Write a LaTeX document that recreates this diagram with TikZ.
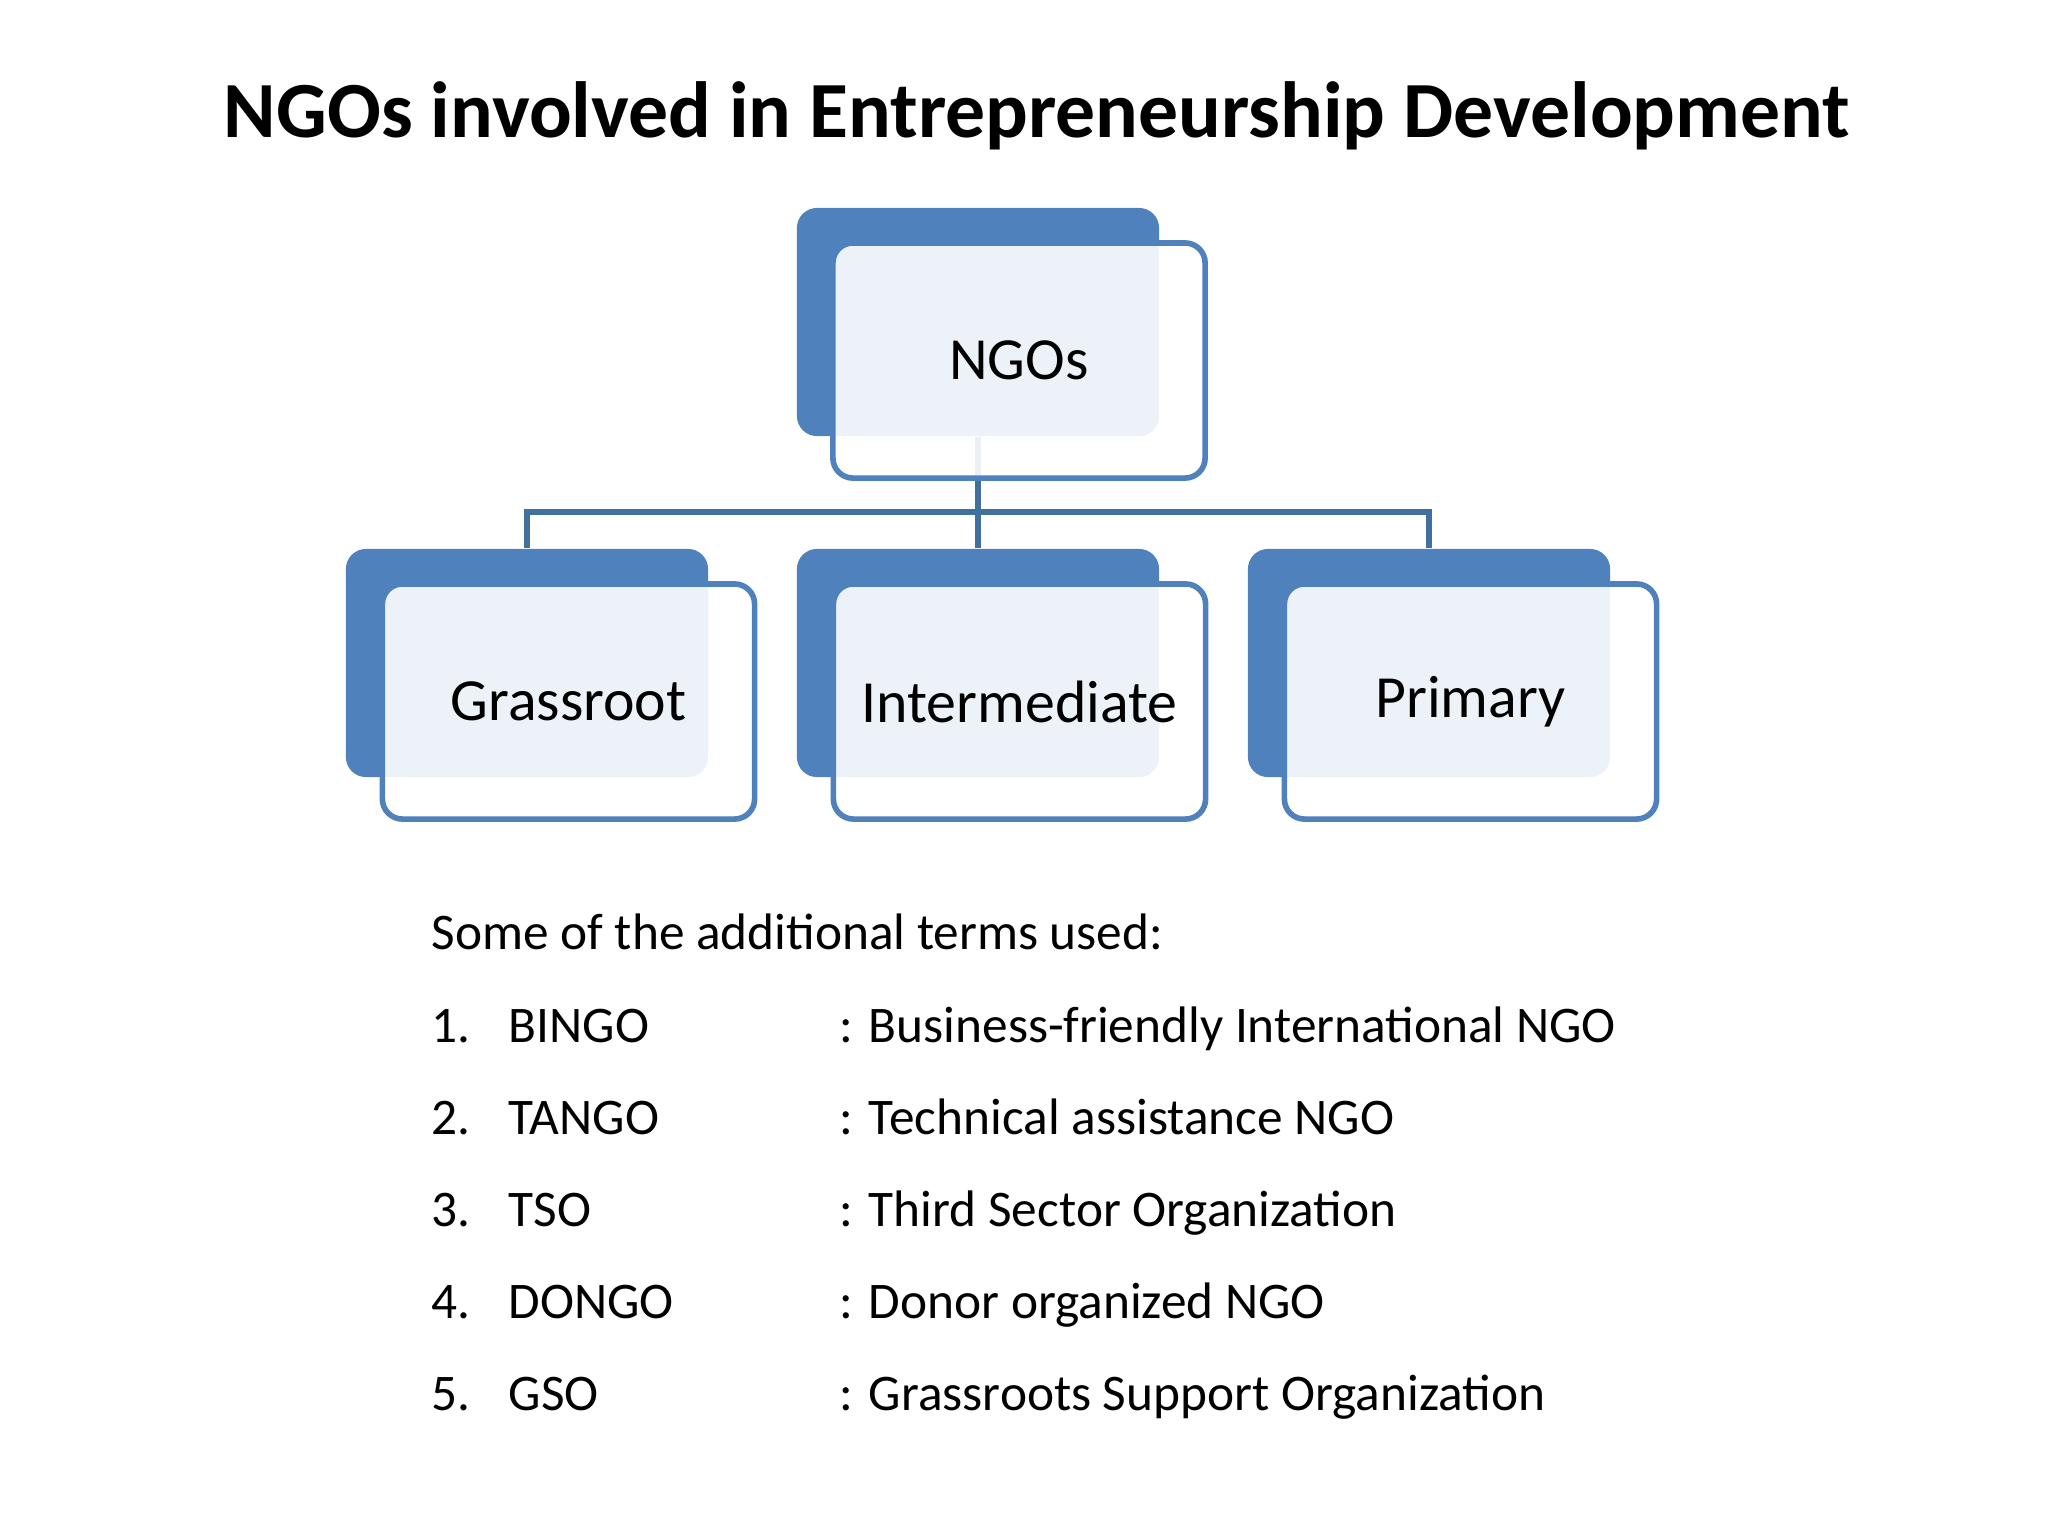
\documentclass[tikz,border=0pt]{standalone}
\usepackage{fontspec}
\setmainfont{Carlito}
\definecolor{boxblue}{HTML}{4F81BD}
\definecolor{linkblue}{HTML}{41709F}
\begin{document}
\begin{tikzpicture}[x=0.01cm,y=-0.01cm,
  backbox/.style={rectangle,rounded corners=0.2cm,fill=boxblue,inner sep=0pt,minimum width=3.62cm,minimum height=2.28cm},
  frontbox/.style={rectangle,rounded corners=0.2cm,fill=white,fill opacity=0.9,text opacity=1,draw=boxblue,line width=1.6pt,inner sep=0pt,minimum width=3.72cm,minimum height=2.35cm,font=\fontsize{17}{20}\selectfont},
  link/.style={draw=linkblue,line width=1.6pt},
  listtext/.style={anchor=base west,inner sep=0pt,font=\fontsize{14.6}{17}\selectfont}]
\useasboundingbox (0,0) rectangle (2048,1536);
\node[anchor=base,inner sep=0pt,font=\fontsize{22.65}{27}\selectfont\bfseries] (title) at (1037,137) {NGOs involved in Entrepreneurship Development};
% back boxes
\node[backbox] (nb) at (978,322) {};
\node[backbox] (gb) at (527,663) {};
\node[backbox] (ib) at (978,663) {};
\node[backbox] (pb) at (1429,663) {};
% connectors
\coordinate (hub) at (978,512);
\draw[link] (nb.south) -- (hub);
\draw[link] (hub) -| (gb.north);
\draw[link] (hub) -- (ib.north);
\draw[link] (hub) -| (pb.north);
% front boxes
\node[frontbox] (nf) at (1019,360.5) {NGOs};
\node[frontbox] (gf) at (568.5,701.5) {Grassroot};
\node[frontbox] (if) at (1019.5,701.5) {Intermediate};
\node[frontbox] (pf) at (1470.5,701.5) {Primary};
% list
\node[listtext] (head) at (431,949) {Some of the additional terms used:};
\node[listtext] (n1) at (431,1042) {1.};
\node[listtext] (t1) at (508,1042) {BINGO};
\node[listtext] (d1) at (839,1042) {: Business-friendly International NGO};
\node[listtext] (n2) at (431,1134) {2.};
\node[listtext] (t2) at (508,1134) {TANGO};
\node[listtext] (d2) at (839,1134) {: Technical assistance NGO};
\node[listtext] (n3) at (431,1226) {3.};
\node[listtext] (t3) at (508,1226) {TSO};
\node[listtext] (d3) at (839,1226) {: Third Sector Organization};
\node[listtext] (n4) at (431,1318) {4.};
\node[listtext] (t4) at (508,1318) {DONGO};
\node[listtext] (d4) at (839,1318) {: Donor organized NGO};
\node[listtext] (n5) at (431,1410) {5.};
\node[listtext] (t5) at (508,1410) {GSO};
\node[listtext] (d5) at (839,1410) {: Grassroots Support Organization};
\end{tikzpicture}
\end{document}
